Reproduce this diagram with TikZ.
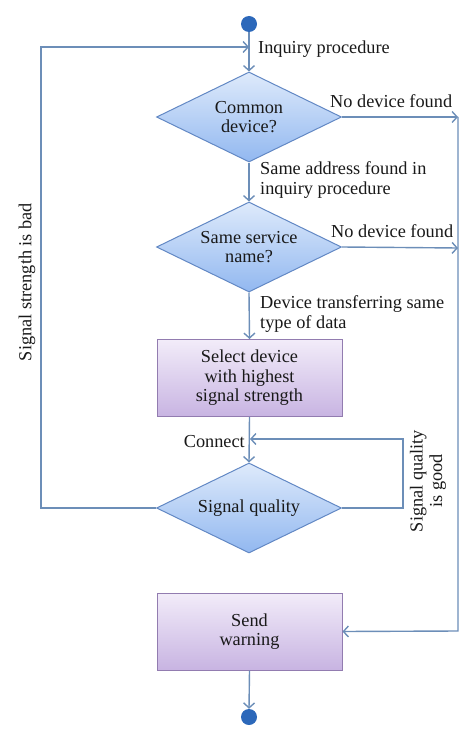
\documentclass[tikz,border=0pt]{standalone}
\usepackage{fontspec}
\setmainfont{Liberation Serif}
\usetikzlibrary{shapes.geometric,arrows.meta}
\definecolor{linec}{RGB}{108,142,184}
\definecolor{dborder}{RGB}{98,136,196}
\definecolor{dtop}{RGB}{222,234,251}
\definecolor{dbot}{RGB}{146,184,240}
\definecolor{bborder}{RGB}{146,124,176}
\definecolor{btop}{RGB}{242,236,249}
\definecolor{bbot}{RGB}{200,180,226}
\definecolor{dotc}{RGB}{44,104,186}
\definecolor{txt}{RGB}{25,25,25}
\tikzset{
  every node/.style={text=txt,font=\fontsize{18.3}{19.5}\selectfont},
  decision/.style={diamond,draw=dborder,line width=1pt,top color=dtop,bottom color=dbot,
    minimum width=185pt,minimum height=90pt,inner sep=0pt,aspect=2,align=center},
  process/.style={rectangle,draw=bborder,line width=1pt,top color=btop,bottom color=bbot,
    minimum width=185pt,minimum height=77pt,inner sep=0pt,align=center},
  terminal/.style={circle,fill=dotc,minimum size=16pt,inner sep=0pt},
  conn/.style={draw=linec,line width=1.4pt},
  arr/.style={conn,-{Straight Barb[length=5pt,width=11pt]}},
  lbl/.style={align=left,inner sep=0pt}
}
\begin{document}
\begin{tikzpicture}[x=1pt,y=1pt]
\useasboundingbox (0,0) rectangle (474,-741);
% nodes
\node[terminal] (s) at (249,-24) {};
\node[decision] (d1) at (249,-117) {Common\\device?};
\node[decision] (d2) at (249,-247) {Same service\\name?};
\node[process] (b1) at (249.5,-378) {Select device\\with highest\\signal strength};
\node[decision] (d3) at (249,-508) {Signal quality};
\node[process] (b2) at (249.5,-631.5) {Send\\warning};
\node[terminal] (e) at (249,-717) {};
% coordinates
\coordinate (inq) at (249,-47);
\coordinate (r1) at (458,-117);
\coordinate (r2) at (458,-248);
\coordinate (con) at (250,-439);
% labels
\node[lbl,anchor=base west] (linq) at (258,-54) {Inquiry procedure};
\node[lbl,anchor=base west] (lnd1) at (330,-108) {No device found};
\node[lbl,anchor=base west] (lsame) at (260,-194) {Same address found in\\inquiry procedure};
\node[lbl,anchor=base west] (lnd2) at (331,-237) {No device found};
\node[lbl,anchor=base west] (ldev) at (260,-328) {Device transferring same\\type of data};
\node[lbl,anchor=base east] (lcon) at (245,-447) {Connect};
\node[lbl,align=center,rotate=90] (lgood) at (428,-481) {Signal quality\\is good};
\node[lbl,rotate=90] (lbad) at (27,-282) {Signal strength is bad};
% connectors
\draw[arr] (s) -- (d1.north);
\draw[arr] (d1.south) -- (d2.north);
\draw[arr] (d2.south) -- (b1.north);
\draw[arr] (b1.south) -- (d3.north);
\draw[arr] (b2.south) -- (e.north);
\draw[arr] (d1.east) -- (r1);
\draw[arr] (d2.east) -- (r2);
\draw[arr] (r1) -- ++(0,-514) -- (b2.east);
\draw[arr] (d3.east) -- ++(61,0) |- (con);
\draw[arr] (d3.west) -- ++(-115,0) |- (inq);
\end{tikzpicture}
\end{document}
